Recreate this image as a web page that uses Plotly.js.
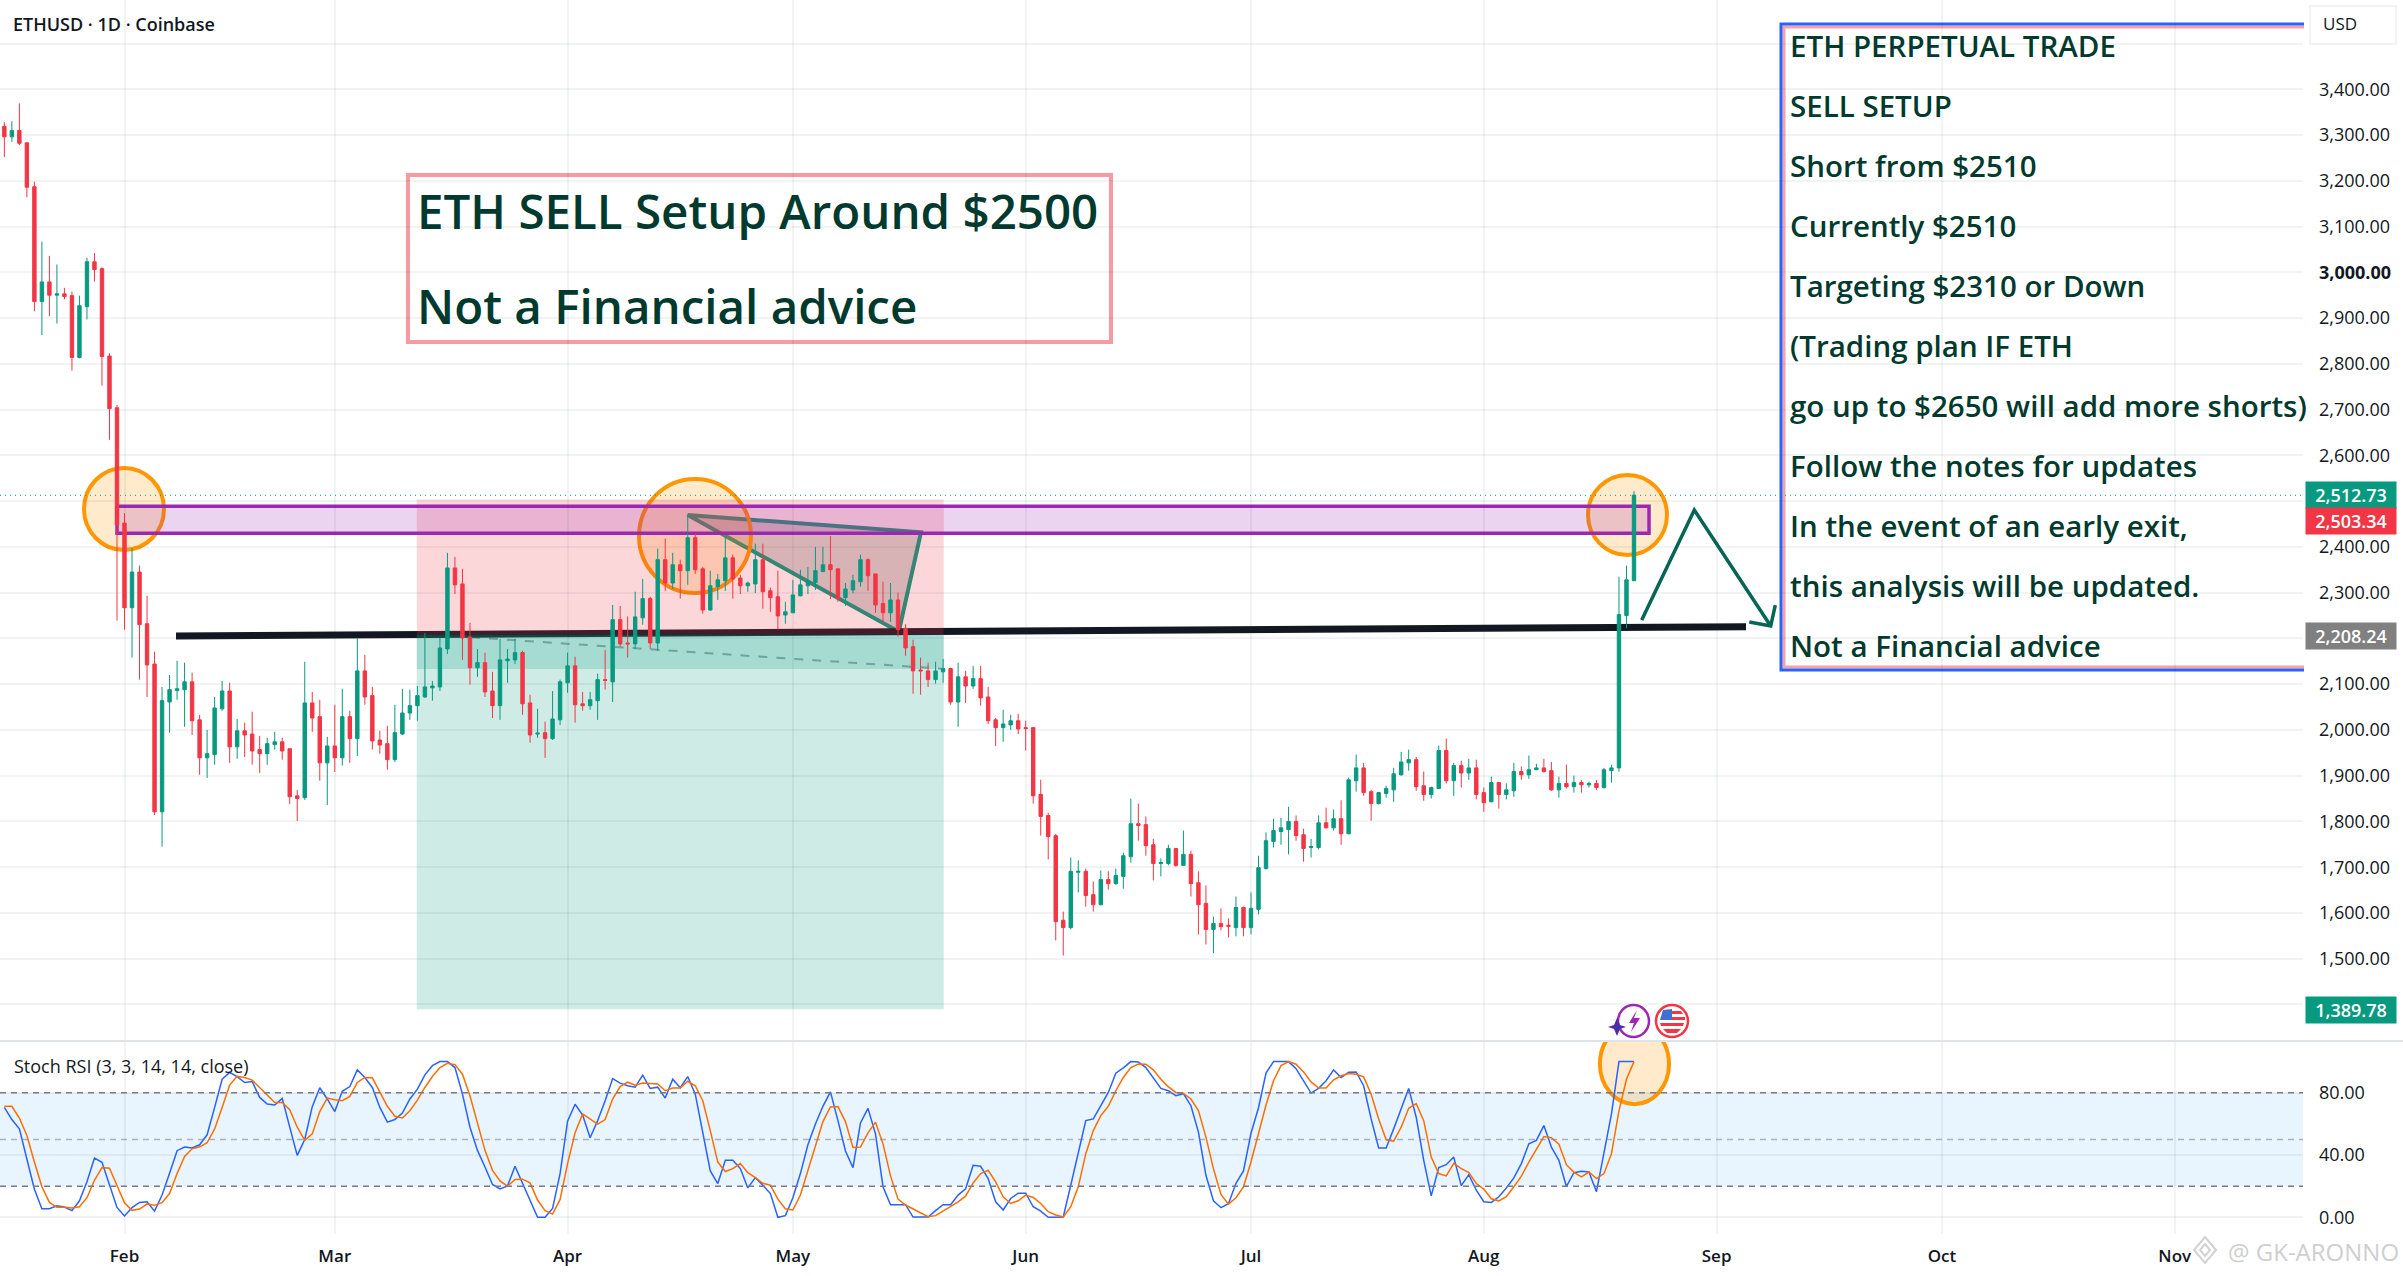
<!DOCTYPE html>
<html>
<head>
<meta charset="utf-8">
<title>ETHUSD 1D</title>
<script src="https://cdn.plot.ly/plotly-3.0.1.min.js"></script>
<style>html,body{margin:0;padding:0;background:#fff}#chart{width:2403px;height:1276px}</style>
</head>
<body>
<div id="chart"></div>
<script>
// candle data -------------------------------------------------------------
const dates = [
"2025-01-16","2025-01-17","2025-01-18","2025-01-19","2025-01-20","2025-01-21","2025-01-22","2025-01-23","2025-01-24","2025-01-25","2025-01-26","2025-01-27","2025-01-28","2025-01-29","2025-01-30","2025-01-31",
"2025-02-01","2025-02-02","2025-02-03","2025-02-04","2025-02-05","2025-02-06","2025-02-07","2025-02-08","2025-02-09","2025-02-10","2025-02-11","2025-02-12","2025-02-13","2025-02-14","2025-02-15","2025-02-16","2025-02-17","2025-02-18","2025-02-19","2025-02-20","2025-02-21","2025-02-22","2025-02-23","2025-02-24","2025-02-25","2025-02-26","2025-02-27","2025-02-28",
"2025-03-01","2025-03-02","2025-03-03","2025-03-04","2025-03-05","2025-03-06","2025-03-07","2025-03-08","2025-03-09","2025-03-10","2025-03-11","2025-03-12","2025-03-13","2025-03-14","2025-03-15","2025-03-16","2025-03-17","2025-03-18","2025-03-19","2025-03-20","2025-03-21","2025-03-22","2025-03-23","2025-03-24","2025-03-25","2025-03-26","2025-03-27","2025-03-28","2025-03-29","2025-03-30","2025-03-31",
"2025-04-01","2025-04-02","2025-04-03","2025-04-04","2025-04-05","2025-04-06","2025-04-07","2025-04-08","2025-04-09","2025-04-10","2025-04-11","2025-04-12","2025-04-13","2025-04-14","2025-04-15","2025-04-16","2025-04-17","2025-04-18","2025-04-19","2025-04-20","2025-04-21","2025-04-22","2025-04-23","2025-04-24","2025-04-25","2025-04-26","2025-04-27","2025-04-28","2025-04-29","2025-04-30",
"2025-05-01","2025-05-02","2025-05-03","2025-05-04","2025-05-05","2025-05-06","2025-05-07","2025-05-08","2025-05-09","2025-05-10","2025-05-11","2025-05-12","2025-05-13","2025-05-14","2025-05-15","2025-05-16","2025-05-17","2025-05-18","2025-05-19","2025-05-20","2025-05-21","2025-05-22","2025-05-23","2025-05-24","2025-05-25","2025-05-26","2025-05-27","2025-05-28","2025-05-29","2025-05-30","2025-05-31",
"2025-06-01","2025-06-02","2025-06-03","2025-06-04","2025-06-05","2025-06-06","2025-06-07","2025-06-08","2025-06-09","2025-06-10","2025-06-11","2025-06-12","2025-06-13","2025-06-14","2025-06-15","2025-06-16","2025-06-17","2025-06-18","2025-06-19","2025-06-20","2025-06-21","2025-06-22","2025-06-23","2025-06-24","2025-06-25","2025-06-26","2025-06-27","2025-06-28","2025-06-29","2025-06-30",
"2025-07-01","2025-07-02","2025-07-03","2025-07-04","2025-07-05","2025-07-06","2025-07-07","2025-07-08","2025-07-09","2025-07-10","2025-07-11","2025-07-12","2025-07-13","2025-07-14","2025-07-15","2025-07-16","2025-07-17","2025-07-18","2025-07-19","2025-07-20","2025-07-21","2025-07-22","2025-07-23","2025-07-24","2025-07-25","2025-07-26","2025-07-27","2025-07-28","2025-07-29","2025-07-30","2025-07-31",
"2025-08-01","2025-08-02","2025-08-03","2025-08-04","2025-08-05","2025-08-06","2025-08-07","2025-08-08","2025-08-09","2025-08-10","2025-08-11","2025-08-12","2025-08-13","2025-08-14","2025-08-15","2025-08-16","2025-08-17","2025-08-18","2025-08-19","2025-08-20","2025-08-21"];

const opens = [3319,3296,3310,3283,3187,2936,2979,2950,2953,2949,
2814,2925,3023,3008,2817,2704,2452,2267,2345,2232,
2144,1821,2061,2086,2088,2105,2022,1939,1946,2046,
2085,1963,1998,1991,1957,1948,1968,1974,1959,1856,
1852,2059,2029,1928,1965,1939,2029,1981,2129,2075,
1978,1970,1935,1991,2037,2053,2072,2092,2094,2177,
2354,2319,2203,2136,2147,2085,2053,2151,2153,2169,
2059,1991,1994,1981,2022,2103,2140,2057,2053,2064,
2110,2105,2241,2190,2188,2245,2287,2190,2372,2321,
2361,2348,2420,2352,2262,2313,2326,2376,2332,2315,
2319,2372,2304,2291,2251,2256,2293,2315,2322,2346,
2361,2352,2289,2306,2324,2372,2341,2276,2256,2284,
2222,2182,2131,2129,2110,2127,2134,2061,2116,2096,
2112,2072,2022,2005,2011,2020,2005,2005,1859,1813,
1769,1584,1568,1689,1691,1640,1618,1673,1664,1680,
1723,1795,1793,1749,1708,1708,1741,1704,1728,1666,
1621,1564,1577,1573,1568,1612,1568,1608,1697,1756,
1778,1782,1800,1771,1743,1743,1797,1786,1806,1773,
1889,1917,1865,1839,1861,1869,1902,1928,1935,1878,
1859,1872,1955,1889,1922,1906,1917,1863,1843,1885,
1859,1867,1909,1902,1913,1917,1911,1869,1883,1876,
1885,1880,1883,1874,1911,1917,2250,2326];

const highs = [3328,3330,3369,3283,3198,3067,3036,3017,2966,2958,
2949,3032,3042,3011,2823,2710,2474,2397,2359,2293,
2171,2094,2120,2151,2147,2125,2033,2000,2072,2107,
2103,2024,2016,2040,1987,1983,1996,1983,1959,1869,
2149,2083,2066,1985,2055,2090,2042,2201,2164,2094,
1998,2009,2055,2090,2088,2096,2212,2107,2201,2387,
2378,2352,2234,2177,2169,2127,2199,2177,2199,2173,
2077,2046,2018,2085,2110,2169,2160,2083,2083,2123,
2175,2273,2271,2248,2302,2330,2291,2396,2418,2387,
2372,2470,2429,2356,2348,2341,2422,2383,2339,2324,
2407,2407,2311,2348,2280,2328,2350,2356,2400,2400,
2424,2352,2321,2339,2383,2375,2341,2324,2321,2300,
2231,2197,2158,2147,2149,2155,2136,2147,2129,2140,
2140,2094,2026,2044,2033,2035,2020,2005,1891,1819,
1773,1603,1721,1715,1697,1669,1693,1691,1697,1732,
1850,1839,1811,1762,1719,1749,1741,1780,1736,1691,
1660,1592,1610,1588,1636,1614,1645,1725,1776,1806,
1808,1832,1813,1784,1762,1813,1830,1826,1846,1896,
1946,1928,1869,1865,1878,1917,1952,1957,1941,1909,
1876,1966,1981,1928,1933,1937,1935,1874,1898,1885,
1883,1928,1920,1944,1926,1937,1930,1898,1924,1900,
1891,1887,1891,1917,1924,2335,2359,2522];

const lows = [3252,3285,3278,3164,2915,2863,2904,2888,2941,2785,
2812,2897,2980,2752,2634,2239,2219,2158,2110,2072,
1814,1745,1994,2066,2007,1989,1902,1895,1924,2042,
1928,1937,1941,1924,1906,1924,1957,1935,1838,1801,
1847,1996,1889,1836,1908,1922,1928,1943,2055,1957,
1948,1913,1930,1989,2022,2020,2070,2064,2085,2166,
2297,2153,2099,2116,2072,2026,2022,2103,2144,2033,
1972,1983,1939,1978,2011,2081,2016,2042,2044,2022,
2088,2061,2182,2158,2177,2230,2177,2173,2304,2308,
2287,2317,2341,2254,2260,2284,2304,2287,2297,2302,
2299,2265,2258,2220,2232,2256,2292,2297,2306,2345,
2286,2280,2271,2299,2313,2304,2256,2236,2236,2204,
2162,2079,2077,2094,2101,2103,2055,2007,2059,2090,
2053,2013,1965,1974,2000,1991,1955,1839,1769,1717,
1540,1507,1564,1645,1614,1603,1617,1651,1662,1653,
1710,1758,1725,1671,1680,1704,1701,1703,1636,1553,
1531,1512,1562,1547,1549,1549,1553,1597,1695,1743,
1749,1728,1758,1712,1721,1739,1785,1780,1749,1772,
1865,1856,1802,1837,1852,1843,1900,1911,1867,1845,
1850,1871,1883,1856,1874,1891,1848,1821,1842,1828,
1848,1854,1891,1893,1912,1907,1867,1852,1872,1863,
1863,1874,1869,1872,1885,1909,2222,2326];

const closes = [3296,3310,3282,3186,2936,2979,2950,2953,2947,2814,
2927,3023,3006,2816,2702,2448,2267,2345,2230,2142,
1821,2064,2088,2090,2105,2020,1939,1948,2048,2085,
1963,1998,1989,1954,1948,1970,1974,1954,1854,1850,
2059,2026,1928,1965,1939,2029,1981,2129,2072,1976,
1967,1935,1994,2037,2053,2075,2094,2096,2179,2354,
2317,2201,2136,2147,2083,2053,2153,2155,2169,2057,
1989,1993,1981,2024,2105,2140,2055,2053,2066,2110,
2108,2241,2188,2188,2247,2287,2190,2372,2321,2361,
2348,2420,2350,2262,2315,2328,2376,2330,2315,2321,
2372,2302,2289,2249,2258,2295,2317,2324,2348,2361,
2350,2287,2308,2326,2372,2337,2273,2256,2284,2219,
2179,2129,2129,2110,2129,2134,2061,2116,2096,2112,
2070,2020,2005,2013,2020,2002,2003,1856,1811,1767,
1581,1568,1691,1691,1638,1618,1673,1664,1682,1725,
1795,1791,1747,1708,1710,1741,1704,1728,1664,1618,
1564,1577,1570,1571,1612,1568,1610,1699,1758,1780,
1786,1800,1769,1741,1745,1797,1786,1806,1773,1891,
1917,1863,1839,1863,1872,1904,1930,1935,1876,1859,
1874,1955,1889,1922,1906,1917,1859,1841,1885,1859,
1869,1909,1902,1913,1917,1909,1869,1883,1876,1885,
1880,1883,1874,1913,1917,2252,2328,2513];

// stoch rsi, %K and %D ------------------------------------------------------
const stochK = [70.6,62.8,56.8,37.7,18.1,5.5,5.5,7.4,6.6,4.3,
10.6,22.8,38.1,35.3,20.6,6.4,0.9,6.2,9.6,10,
4,14.3,28.3,42.8,45.1,44.5,46.6,53,70.6,88.7,
93,90.4,86.6,87.2,77,72.8,72.1,76.4,57.9,39.8,
50,71.1,83.2,76,67.9,80.9,84,94.7,89.8,83.4,
70.6,61.1,62.8,67,76,82.3,91.5,97.4,100,100,
96.2,79.1,57.9,43,32.3,21.1,18.3,20.2,32.8,21.7,
10,0,0,5.7,28.1,61.7,72.6,65.7,51.1,62.1,
74.9,89.1,86.2,84.5,83.6,91.3,82.8,83.6,76.6,88.7,
83.2,90.4,79.1,54.7,29.8,21.7,36.6,36.6,31.3,18.9,
25.5,20.6,15.3,0,1.1,12.6,28.1,46.6,60,71.3,
80.6,62.1,42.6,31.9,60.6,70,53.6,19.6,8.1,8.1,
8.1,0.2,0.2,0.2,4.3,8.1,8.1,14.3,18.3,33.4,
32.8,24.9,10,4.7,12.1,15.5,15.5,6.8,4,0,
0,0.2,20.6,40.9,62.1,63.2,71.7,80.2,92.6,96,
100,99.8,96.2,89.4,82.8,81.3,78.1,79.4,71.7,54.7,
27,10.6,6.2,8.7,21.9,29.8,54,70.4,92.6,100,
100,100,95.5,87.7,79.8,82.8,87.7,94.7,89.8,93.2,
93.4,84.5,63.2,44.5,44.5,56.8,69.6,82.8,64.3,36.6,
13.8,31.9,33.8,38.7,20.4,27.4,17.4,10,9.6,13.2,
18.9,25.3,34.5,47.2,49.4,58.9,45.1,36.6,19.8,28.7,
29.6,29.1,16.4,40.9,66.4,100,100,100];

const stochD = [71.3,71.3,63.8,52.6,35.5,19.6,9.6,6.4,6.4,6,
6.8,12.6,23.8,31.9,31.5,20.6,9.4,4.5,5.3,8.5,
7.7,9.4,15.3,28.1,39.1,44,45.3,47.9,56.8,70.6,
84.9,90.6,89.8,88.1,83.4,78.7,73.8,73.8,69.1,57.9,
49.4,53.6,67.9,76.6,75.5,74.9,77.7,86.6,89.8,89.6,
80.9,71.3,64.9,63.8,68.5,75.3,83.4,90.4,96.2,98.9,
98.1,91.9,78.1,60,43,30.2,23.4,20,24.3,24.5,
22.1,11.1,4.3,2.1,11.5,34.5,54.3,66.4,63,59.8,
62.8,76,84,86.8,84.9,86.2,86,85.7,81.3,83,
83,87.4,84.5,74.9,55.7,35.5,29.4,31.3,34.5,28.7,
25.5,21.9,20.6,11.7,5.5,4.7,14.3,30.2,47.2,61.5,
70.9,71.1,61.5,44.9,45.1,54.3,61.1,47.2,26.6,11.7,
7.9,5.3,2.8,0.4,1.1,4,6.6,10,13.6,22.1,
28.1,30.2,22.8,13.2,8.9,10.6,14.3,12.8,8.9,3.6,
1.5,0.2,6.8,19.6,40.9,55.7,65.3,71.3,81.3,89.8,
96.2,98.5,98.3,94.7,88.7,83.8,80.2,79.6,76,68.5,
51.5,31.3,14.7,8.5,12.6,19.6,35.5,54.7,72.1,87.7,
97.4,100,98.3,93.4,87,83,83,88.3,90.9,92.3,
91.9,90.2,79.1,63.2,49.8,48.9,57.9,70,73,62.1,
38.7,28.1,26.6,34.7,31.3,28.7,21.7,18.1,11.9,10.6,
13.2,19.6,26.4,35.5,44,51.9,51.1,47,33.8,28.9,
26,29.1,24.9,28.1,40.9,68.5,88.7,100];

// axes labels ---------------------------------------------------------------
const monthVals = ["2025-02-01","2025-03-01","2025-04-01","2025-05-01","2025-06-01","2025-07-01","2025-08-01","2025-09-01","2025-10-01","2025-11-01"];
const monthText = ["Feb","Mar","Apr","May","Jun","Jul","Aug","Sep","Oct","Nov"];
const priceVals = [1400,1500,1600,1700,1800,1900,2000,2100,2200,2300,2400,2500,2600,2700,2800,2900,3000,3100,3200,3300,3400,3500];
const priceText = ["","1,500.00","1,600.00","1,700.00","1,800.00","1,900.00","2,000.00","2,100.00","","2,300.00","2,400.00","","2,600.00","2,700.00","2,800.00","2,900.00","<b>3,000.00</b>","3,100.00","3,200.00","3,300.00","3,400.00",""];
const stochVals = [0,40,80];
const stochText = ["0.00","40.00","80.00"];

// price levels of the drawings
const lastPrice = 2512.73;
const shortEntry = 2503.34;
const shortStop = 2208.24;
const shortTarget = 1389.78;
const noteLines = ["ETH PERPETUAL TRADE","SELL SETUP","Short from $2510","Currently $2510","Targeting $2310 or Down","(Trading plan IF ETH","go up to $2650 will add more shorts)","Follow the notes for updates","In the event of an early exit,","this analysis will be updated.","Not a Financial advice"];

// helpers for overlay stuff, page pixels -> paper --------------------------
const W = 2403, H = 1276;
const X = p => p / W;
const Y = p => 1 - p / H;
const FONT = "Open Sans, sans-serif";
const TEXTCOL = "#131722", NOTECOL = "#003A2E";
const UP = "#089981", DOWN = "#F23645";

function pxPath(pts, close) {
    return pts.map((p, i) => (i ? "L" : "M") + X(p[0]).toFixed(5) + "," + Y(p[1]).toFixed(5)).join(" ") + (close ? " Z" : "");
}
function paperPath(pts, color, width, fill, close, dash) {
    return {type: "path", xref: "paper", yref: "paper", layer: "below", path: pxPath(pts, close),
        line: {color: color, width: width, dash: dash || "solid"}, fillcolor: fill || "rgba(0,0,0,0)"};
}
// icon parts sit on top of their white discs
function iconPath(pts, color) {
    return {type: "path", xref: "paper", yref: "paper", layer: "above", path: pxPath(pts, true),
        line: {color: color, width: 0}, fillcolor: color};
}
function oval(x0, y0, x1, y1) {
    return {type: "circle", xref: "paper", yref: "paper", layer: "below", x0: X(x0), x1: X(x1), y0: Y(y0), y1: Y(y1),
        line: {color: "#FF9800", width: 4}, fillcolor: "rgba(255,152,0,0.2)"};
}
function text(str, x, y, size, color, weight, xanchor) {
    return {text: str, xref: "paper", yref: "paper", x: X(x), y: Y(y), showarrow: false, xanchor: xanchor || "left", yanchor: "middle",
        font: {family: FONT, size: size, color: color, weight: weight || 400}};
}
function tag(str, y, bg) {
    return {text: str, xref: "paper", yref: "paper", x: X(2305), y: Y(y), showarrow: false, xanchor: "left", yanchor: "middle",
        width: 90, height: 26, borderpad: 0, align: "center", bgcolor: bg,
        font: {family: FONT, size: 18, color: "#fff", weight: 600}};
}

// shapes ---------------------------------------------------------------------
const shapes = [
    // stoch band and levels
    {type: "rect", xref: "paper", yref: "y2", layer: "below", x0: 0, x1: X(2303), y0: 20, y1: 80, fillcolor: "rgba(33,150,243,0.1)", line: {width: 0}},
    {type: "line", xref: "paper", yref: "y2", x0: 0, x1: X(2303), y0: 80, y1: 80, line: {color: "#787B86", width: 1.5, dash: "6px,5px"}},
    {type: "line", xref: "paper", yref: "y2", x0: 0, x1: X(2303), y0: 50, y1: 50, line: {color: "rgba(120,123,134,0.55)", width: 1.5, dash: "6px,5px"}},
    {type: "line", xref: "paper", yref: "y2", x0: 0, x1: X(2303), y0: 20, y1: 20, line: {color: "#787B86", width: 1.5, dash: "6px,5px"}},
    // pane separator
    {type: "line", xref: "paper", yref: "paper", x0: 0, x1: 1, y0: Y(1041), y1: Y(1041), line: {color: "#E0E3EB", width: 2}},
    // short position boxes
    {type: "rect", xref: "x", yref: "y", layer: "below", x0: "2025-03-11 22:00", x1: "2025-05-21 02:00", y0: shortStop, y1: shortEntry, fillcolor: "rgba(242,54,69,0.2)", line: {width: 0}},
    {type: "rect", xref: "x", yref: "y", layer: "below", x0: "2025-03-11 22:00", x1: "2025-05-21 02:00", y0: shortTarget, y1: shortStop, fillcolor: "rgba(8,153,129,0.2)", line: {width: 0}},
    {type: "rect", xref: "x", yref: "y", layer: "below", x0: "2025-03-11 22:00", x1: "2025-05-21 02:00", y0: 2133, y1: shortStop, fillcolor: "rgba(8,153,129,0.2)", line: {width: 0}},
    // purple resistance zone
    {type: "rect", xref: "x", yref: "y", layer: "below", x0: "2025-01-31", x1: "2025-08-23", y0: 2430, y1: 2489, fillcolor: "rgba(156,39,176,0.2)", line: {color: "#9C27B0", width: 3.5}},
    // last price
    {type: "line", xref: "paper", yref: "y", x0: 0, x1: X(2303), y0: lastPrice, y1: lastPrice, line: {color: UP, width: 1, dash: "1px,4px"}},
    // dashed target line
    paperPath([[471, 637.3], [941.5, 668.7]], "rgba(120,123,134,0.65)", 2, "", false, "9px,9px"),
    // wedge
    paperPath([[687.7, 515], [921, 532.3], [898.8, 631.7]], UP, 4, "rgba(195,195,195,0.75)", true),
    // support
    paperPath([[176, 636], [1746, 626.7]], TEXTCOL, 7),
    // projected move
    paperPath([[1641.7, 620], [1694.3, 510], [1770.7, 626]], "#056656", 3.5),
    paperPath([[1749.3, 622], [1770.7, 626], [1775.3, 605]], "#056656", 3.5),
    // circles
    oval(84, 468, 164, 550),
    oval(639, 479, 751, 593),
    oval(1588, 475, 1667, 555),
    {type: "circle", xref: "x", yref: "y2", layer: "below", x0: "2025-08-16 11:00", x1: "2025-08-25 16:00", y0: 72.7, y1: 124.3, line: {color: "#FF9800", width: 4}, fillcolor: "rgba(255,152,0,0.2)"},
    // title box
    {type: "rect", xref: "paper", yref: "paper", layer: "below", x0: X(408), x1: X(1111), y0: Y(175), y1: Y(342), line: {color: "rgba(242,54,69,0.5)", width: 4}, fillcolor: "rgba(0,0,0,0)"},
    // notes box, open to the right
    paperPath([[2304, 27], [1784, 27], [1784, 667], [2304, 667]], "#F9A0A7", 3),
    paperPath([[2304, 24], [1781, 24], [1781, 670], [2304, 670]], "#2962FF", 3),
    // USD button
    {type: "rect", xref: "paper", yref: "paper", x0: X(2310), x1: X(2396), y0: Y(6), y1: Y(44), line: {color: "#EEF0F3", width: 1.5}, fillcolor: "#fff"},
    // event icons
    {type: "circle", xref: "paper", yref: "paper", x0: X(1618), x1: X(1649), y0: Y(1005), y1: Y(1037), line: {color: "#9C27B0", width: 2.5}, fillcolor: "#fff"},
    iconPath([[1637, 1010], [1629, 1023], [1634, 1023], [1631, 1032], [1640, 1018], [1634, 1018]], "#9C27B0"),
    iconPath([[1617, 1018], [1620, 1025], [1626, 1027], [1620, 1029], [1617, 1036], [1614, 1029], [1608, 1027], [1614, 1025]], "#4A2FA8"),
    {type: "circle", xref: "paper", yref: "paper", x0: X(1656), x1: X(1688), y0: Y(1005), y1: Y(1037), line: {color: DOWN, width: 2.5}, fillcolor: "#fff"},
    iconPath([[1663, 1010], [1672, 1009], [1672, 1020], [1660, 1020]], "#3F6FD0"),
    iconPath([[1672, 1011], [1681, 1011], [1683, 1014], [1672, 1014]], DOWN),
    iconPath([[1672, 1017], [1685, 1017], [1685, 1020], [1672, 1020]], DOWN),
    iconPath([[1660, 1023], [1684, 1023], [1683, 1026], [1661, 1026]], DOWN),
    iconPath([[1663, 1029], [1681, 1029], [1677, 1033], [1667, 1033]], DOWN),
    // watermark logo
    paperPath([[2205, 1237], [2216, 1250], [2205, 1263], [2194, 1250]], "#D2D2D2", 2, "", true),
    paperPath([[2205, 1244], [2210, 1250], [2205, 1256], [2200, 1250]], "#D2D2D2", 2, "", true)
];

// text --------------------------------------------------------------------------
const annotations = [
    text("ETHUSD · 1D · Coinbase", 11, 24, 18, TEXTCOL, 600),
    text("Stoch RSI (3, 3, 14, 14, close)", 12, 1066, 18, TEXTCOL),
    text("ETH SELL Setup Around $2500", 415, 210, 47.5, NOTECOL, 600),
    text("Not a Financial advice", 415, 306, 47.5, NOTECOL, 600),
    text("USD", 2340, 24, 17, TEXTCOL, 400, "center"),
    text("@ GK-ARONNO", 2226, 1251, 24, "#CFCFCF"),
    tag("2,512.73", 495, UP),
    tag("2,503.34", 521, DOWN),
    tag("2,208.24", 635.5, "#808080"),
    tag("1,389.78", 1009.5, UP)
];
noteLines.forEach((line, i) => {
    annotations.push(text(line, 1788, 45.5 + i * 59.97, 29.5, NOTECOL, 600));
});

// traces ---------------------------------------------------------------------
const candles = {
    type: "candlestick", x: dates, open: opens, high: highs, low: lows, close: closes, xaxis: "x", yaxis: "y",
    increasing: {line: {color: UP, width: 1}, fillcolor: UP},
    decreasing: {line: {color: DOWN, width: 1}, fillcolor: DOWN},
    hoverinfo: "skip", showlegend: false
};
const lineK = {type: "scatter", mode: "lines", x: dates, y: stochK, xaxis: "x", yaxis: "y2", line: {color: "#2962FF", width: 1.5}, hoverinfo: "skip", showlegend: false};
const lineD = {type: "scatter", mode: "lines", x: dates, y: stochD, xaxis: "x", yaxis: "y2", line: {color: "#FF6D00", width: 1.5}, hoverinfo: "skip", showlegend: false};

const GRID = "rgba(42,46,57,0.06)";
const layout = {
    width: W, height: H,
    margin: {l: 0, r: 0, t: 0, b: 0},
    paper_bgcolor: "#fff", plot_bgcolor: "rgba(0,0,0,0)",
    showlegend: false, boxgap: 0.35,
    font: {family: FONT, color: TEXTCOL},
    xaxis: {type: "date", domain: [0, X(2303)], range: ["2025-01-15 10:05", "2025-11-18 02:00"], anchor: "y2",
        rangeslider: {visible: false}, tickmode: "array", tickvals: monthVals, ticktext: monthText,
        ticks: "", showgrid: true, gridcolor: GRID, gridwidth: 1.5, zeroline: false, showline: false,
        ticklabelstandoff: 10, tickfont: {family: FONT, size: 17, color: TEXTCOL, weight: 600}},
    yaxis: {domain: [Y(1041), 1], range: [1320.2, 3595.1], side: "right", anchor: "x",
        tickmode: "array", tickvals: priceVals, ticktext: priceText, ticks: "",
        gridcolor: GRID, gridwidth: 1.5, zeroline: false, showline: false,
        ticklabelstandoff: 15, tickfont: {family: FONT, size: 18, color: TEXTCOL}},
    yaxis2: {domain: [Y(1234), Y(1042)], range: [-10.7, 112.6], side: "right", anchor: "x",
        tickmode: "array", tickvals: stochVals, ticktext: stochText, ticks: "",
        gridcolor: GRID, gridwidth: 1.5, zeroline: false, showline: false,
        ticklabelstandoff: 15, tickfont: {family: FONT, size: 18, color: TEXTCOL}},
    shapes: shapes,
    annotations: annotations
};

Plotly.newPlot("chart", [candles, lineK, lineD], layout, {displayModeBar: false});
</script>
</body>
</html>
